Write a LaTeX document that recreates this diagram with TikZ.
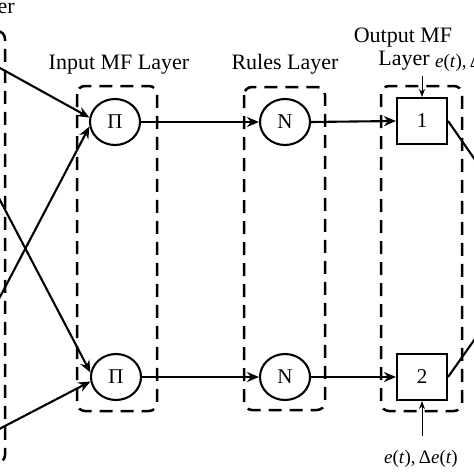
\documentclass[tikz,border=0pt]{standalone}
\usepackage{fontspec}
\setmainfont{Liberation Serif}
\usetikzlibrary{shapes.geometric,arrows.meta}
\begin{document}
\begin{tikzpicture}[x=1pt,y=-1pt,
  lbl/.style={font=\fontsize{22}{26}\selectfont, inner sep=0pt},
  sig/.style={font=\fontsize{19}{22}\selectfont, inner sep=0pt},
  layerbox/.style={draw, line width=2.5pt, dash pattern=on 13pt off 8pt, rounded corners=8pt},
  neuron/.style={draw, ellipse, line width=2.1pt, minimum width=50pt, minimum height=46pt, inner sep=0pt, font=\fontsize{21}{24}\selectfont},
  outbox/.style={draw, rectangle, line width=2.1pt, minimum width=50pt, minimum height=46pt, inner sep=0pt, font=\fontsize{21}{24}\selectfont},
  conn/.style={line width=2.1pt, -{Stealth[length=12pt,width=10pt]}},
  plain/.style={line width=2.1pt},
  thin/.style={line width=0.9pt, -{Stealth[length=8pt,width=6pt]}}
]
\clip (0,0) rectangle (474,474);
% layer boxes
\draw[layerbox] (-80,31) rectangle (5,463);
\draw[layerbox] (77,86) rectangle (157,411);
\draw[layerbox] (244,87) rectangle (325,410);
\draw[layerbox] (381,86) rectangle (462,411);
% labels
\node[lbl, anchor=base east] (linput) at (15,13) {Input Layer};
\node[lbl, anchor=base] (linmf) at (119,69) {Input MF Layer};
\node[lbl, anchor=base] (lrules) at (285,69) {Rules Layer};
\node[lbl, anchor=base] (lout1) at (403,42) {Output MF};
\node[lbl, anchor=base] (lout2) at (404,65) {Layer};
\node[sig, anchor=base west] (sigtop) at (435,67) {\textit{e}(\textit{t}),\,Δ\textit{e}(\textit{t})};
\node[sig, anchor=base] (sigbot) at (421,463) {\textit{e}(\textit{t}),\,Δ\textit{e}(\textit{t})};
% nodes
\node[neuron] (P1) at (115,122) {Π};
\node[neuron] (P2) at (116,377) {Π};
\node[neuron] (N1) at (285,122) {N};
\node[neuron] (N2) at (285,377) {N};
\node[outbox] (B1) at (422,121) {1};
\node[outbox] (B2) at (422,377) {2};
% input free ends
\coordinate (a1) at (-20,57);
\coordinate (a2) at (-20,162);
\coordinate (a3) at (-20,335);
\coordinate (a4) at (-20,439);
\coordinate (o1) at (494,187);
\coordinate (o2) at (494,312);
\coordinate (st) at (422,76);
\coordinate (sb) at (422,436);
% connectors
\draw[conn] (a1) -- (P1.170);
\draw[conn] (a3) -- (P1.190);
\draw[conn] (a2) -- (P2.170);
\draw[conn] (a4) -- (P2.190);
\draw[conn] (P1.east) -- (N1.west);
\draw[conn] (P2.east) -- (N2.west);
\draw[conn] (N1.east) -- (B1.west);
\draw[conn] (N2.east) -- (B2.west);
\draw[plain] (B1.east) -- (o1);
\draw[plain] (B2.east) -- (o2);
\draw[thin] (st) -- (B1.north);
\draw[thin] (sb) -- (B2.south);
\end{tikzpicture}
\end{document}
